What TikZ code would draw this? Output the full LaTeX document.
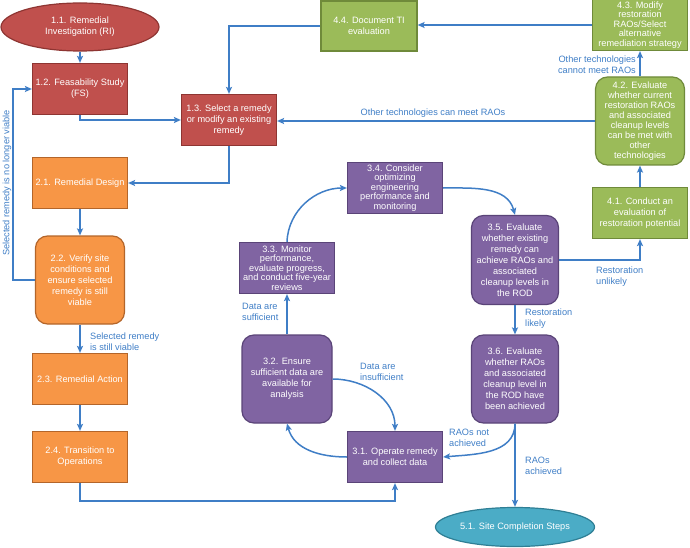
\documentclass[tikz,border=0pt]{standalone}
\usepackage{fontspec}
\setmainfont{Liberation Sans}
\usetikzlibrary{shapes.geometric,arrows.meta}

\definecolor{remred}{HTML}{C0504D}
\definecolor{remredline}{HTML}{8E3532}
\definecolor{remorange}{HTML}{F79646}
\definecolor{remorangeline}{HTML}{B3652A}
\definecolor{remgreen}{HTML}{9BBB59}
\definecolor{remgreenline}{HTML}{6F8A3A}
\definecolor{rempurple}{HTML}{8064A2}
\definecolor{rempurpleline}{HTML}{5A4478}
\definecolor{remteal}{HTML}{4BACC6}
\definecolor{remtealline}{HTML}{2F7F95}
\definecolor{flowblue}{HTML}{3F7EC6}

\begin{document}
\begin{tikzpicture}[x=1pt,y=1pt]

\tikzset{box/.style={draw,line width=1.2pt,text=white,align=center,inner sep=0pt,
    minimum width=95pt,minimum height=51pt,font=\fontsize{9.2}{11}\selectfont},
  redbox/.style={box,fill=remred,draw=remredline},
  orangebox/.style={box,fill=remorange,draw=remorangeline},
  greenbox/.style={box,fill=remgreen,draw=remgreenline},
  purplebox/.style={box,fill=rempurple,draw=rempurpleline},
  tealbox/.style={box,fill=remteal,draw=remtealline},
  roundbox/.style={rounded corners=12pt,minimum width=89pt,minimum height=88pt},
  ovalbox/.style={ellipse,minimum width=158pt,minimum height=48pt},
  tight/.style={font=\fontsize{9.2}{9.4}\selectfont},
  flow/.style={draw=flowblue,line width=1.5pt,-{Stealth[length=7pt,width=6pt,inset=1.5pt]}},
  note/.style={text=flowblue,font=\fontsize{9.2}{11}\selectfont,align=left,anchor=west,inner sep=0pt}}

  \useasboundingbox (0,0) rectangle (690,-548);

  \node[redbox,ovalbox] (n11) at (80,-27) {1.1. Remedial\\Investigation (RI)};
  \node[redbox] (n12) at (80,-89) {1.2. Feasability Study\\(FS)};
  \node[redbox] (n13) at (229,-120) {1.3. Select a remedy\\or modify an existing\\remedy};

  \node[orangebox] (n21) at (80,-183) {2.1. Remedial Design};
  \node[orangebox,roundbox] (n22) at (80,-280) {2.2. Verify site\\conditions and\\ensure selected\\remedy is still\\viable};
  \node[orangebox] (n23) at (80,-379) {2.3. Remedial Action};
  \node[orangebox] (n24) at (80,-457) {2.4. Transition to\\Operations};

  \node[purplebox] (n31) at (395,-457) {3.1. Operate remedy\\and collect data};
  \node[purplebox,roundbox,minimum width=90pt] (n32) at (287,-379) {3.2. Ensure\\sufficient data are\\available for\\analysis};
  \node[purplebox,tight] (n33) at (287,-268) {3.3. Monitor\\performance,\\evaluate progress,\\and conduct five-year\\reviews};
  \node[purplebox,tight] (n34) at (395,-188) {3.4. Consider\\optimizing\\engineering\\performance and\\monitoring};
  \node[purplebox,roundbox,minimum width=87pt,minimum height=89pt] (n35) at (515,-260) {3.5. Evaluate\\whether existing\\remedy can\\achieve RAOs and\\associated\\cleanup levels in\\the ROD};
  \node[purplebox,roundbox,minimum width=87pt] (n36) at (515,-379) {3.6. Evaluate\\whether RAOs\\and associated\\cleanup level in\\the ROD have\\been achieved};

  \node[greenbox] (n41) at (640,-213) {4.1. Conduct an\\evaluation of\\restoration potential};
  \node[greenbox,roundbox,font=\fontsize{9.2}{10}\selectfont] (n42) at (640,-121) {4.2. Evaluate\\whether current\\restoration RAOs\\and associated\\cleanup levels\\can be met with\\other\\technologies};
  \node[greenbox,tight] (n43) at (640,-25) {4.3. Modify\\restoration\\RAOs/Select\\alternative\\remediation strategy};
  \node[greenbox,minimum width=96pt,minimum height=50pt] (n44) at (369,-26) {4.4. Document TI\\evaluation};

  \node[tealbox,ovalbox,minimum width=159pt,minimum height=39pt] (n51) at (515,-527) {5.1. Site Completion Steps};

  % connectors
  \draw[flow] (n11) -- (n12);
  \draw[flow] (n12.south) |- (n13.west);
  \draw[flow] (n44.west) -| (n13.north);
  \draw[flow] (n13.south) |- (n21.east);
  \draw[flow] (n42.west) -- (n42.west -| n13.east);
  \draw[flow] (n43.west) -- (n43.west -| n44.east);
  \draw[flow] (n42) -- (n43);
  \draw[flow] (n41) -- (n42);
  \draw[flow] (n35.east) -| (n41.south);

  \draw[flow] (n21) -- (n22);
  \draw[flow] (n22) -- (n23);
  \draw[flow] (n23) -- (n24);
  \draw[flow] (n22.west) -- ++(-22,0) |- (n12.west);
  \draw[flow] (n24.south) -- ++(0,-18) -| (n31.south);

  \draw[flow] (n31.west) to[out=180,in=-75] (n32.south);
  \draw[flow] (n32.east) to[out=0,in=90] (n31.north);
  \draw[flow] (n32) -- (n33);
  \draw[flow] (n33.north) to[out=88,in=180] (n34.west);
  \draw[flow] (n34.east) to[out=0,in=105] (n35.north);
  \draw[flow] (n35) -- (n36);
  \draw[flow] (n36.south) to[out=-90,in=5] (n31.east);
  \draw[flow] (n36) -- (n51);

  % labels
  \node[note,anchor=center] (lcan) at (433,-113) {Other technologies can meet RAOs};
  \node[note,anchor=east,align=right] (lcannot) at (636,-65) {Other technologies\\cannot meet RAOs};
  \node[note] (lunlikely) at (596,-277) {Restoration\\unlikely};
  \node[note] (llikely) at (525,-319) {Restoration\\likely};
  \node[note] (lachieved) at (525,-466) {RAOs\\achieved};
  \node[note] (lnot) at (449,-438) {RAOs not\\achieved};
  \node[note] (linsuff) at (360,-372) {Data are\\insufficient};
  \node[note] (lsuff) at (242,-312) {Data are\\sufficient};
  \node[note] (lviable) at (90,-342) {Selected remedy\\is still viable};
  \node[note,anchor=center,rotate=90] (lnoviable) at (7,-183) {Selected remedy is no longer viable};

\end{tikzpicture}
\end{document}
